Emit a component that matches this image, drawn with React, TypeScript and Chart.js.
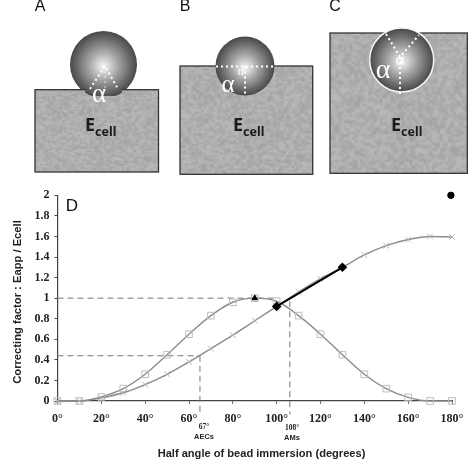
import { useEffect, useRef } from "react";
import Chart from "chart.js/auto";

// values
const angles = [0, 10, 20, 30, 40, 50, 60, 70, 80, 90, 100, 110, 120, 130, 140, 150, 160, 170, 180];
const squareValues = [0, 0, 0.04, 0.12, 0.26, 0.45, 0.65, 0.83, 0.96, 1, 0.97, 0.83, 0.65, 0.45, 0.26, 0.12, 0.035, 0, 0];
const crossValues = [0, 0, 0.03, 0.08, 0.16, 0.26, 0.38, 0.51, 0.64, 0.78, 0.92, 1.06, 1.19, 1.3, 1.42, 1.51, 1.57, 1.6, 1.595];
const diamondAngles = [100, 130];
const diamondValues = [0.92, 1.3];
const trianglePoint = [{ x: 90, y: 1 }];
const circlePoint = [{ x: 179.5, y: 2 }];
const guideTop = [{ x: 0, y: 1 }, { x: 100, y: 1 }];
const guideLow = [{ x: 0, y: 0.44 }, { x: 65, y: 0.44 }];
const guideAec = [{ x: 65, y: 0.44 }, { x: 65, y: -0.13 }];
const guideAm = [{ x: 106, y: 0.97 }, { x: 106, y: -0.13 }];

const W = 474;
const H = 459;
const sansBold = "'Liberation Sans', sans-serif";

function toPoints(xs: number[], ys: number[]) {
  return xs.map((x, i) => ({ x, y: ys[i] }));
}

// mottled grey for the cell blocks, deterministic
function makeTexture() {
  const size = 50;
  const c = document.createElement("canvas");
  c.width = size;
  c.height = size;
  const g = c.getContext("2d")!;
  const img = g.createImageData(size, size);
  let seed = 12345;
  for (let i = 0; i < size * size; i++) {
    seed = (seed * 1103515 + 12345) & 0x7fffffff;
    const v = 162 + ((seed >> 8) % 26);
    img.data[i * 4] = v;
    img.data[i * 4 + 1] = v;
    img.data[i * 4 + 2] = v;
    img.data[i * 4 + 3] = 255;
  }
  g.putImageData(img, 0, 0);
  return c;
}

function drawCellLabel(ctx: CanvasRenderingContext2D, x: number, y: number) {
  ctx.fillStyle = "#1c1c1c";
  ctx.textAlign = "left";
  ctx.textBaseline = "alphabetic";
  ctx.font = "bold 18px 'Noto Sans', sans-serif";
  ctx.fillText("E", x, y);
  ctx.font = "bold 12.5px 'Noto Sans', sans-serif";
  ctx.fillText("cell", x + 10, y + 5);
}

function drawBlock(ctx: CanvasRenderingContext2D, tex: HTMLCanvasElement, x0: number, y0: number, x1: number, y1: number) {
  ctx.save();
  ctx.imageSmoothingEnabled = true;
  ctx.drawImage(tex, 0, 0, 50, 50, x0, y0, x1 - x0, y1 - y0);
  ctx.strokeStyle = "#333";
  ctx.lineWidth = 1.3;
  ctx.strokeRect(x0, y0, x1 - x0, y1 - y0);
  ctx.restore();
}

function drawBead(ctx: CanvasRenderingContext2D, x: number, y: number, r: number) {
  const grad = ctx.createRadialGradient(x, y + 2, 1, x, y, r);
  grad.addColorStop(0, "#f2f2f2");
  grad.addColorStop(0.4, "#a8a8a8");
  grad.addColorStop(0.8, "#666");
  grad.addColorStop(1, "#484848");
  ctx.fillStyle = grad;
  ctx.beginPath();
  ctx.arc(x, y, r, 0, Math.PI * 2);
  ctx.fill();
}

function dotted(ctx: CanvasRenderingContext2D, pts: number[][], width = 2) {
  ctx.save();
  ctx.strokeStyle = "#fff";
  ctx.lineWidth = width;
  ctx.setLineDash([2, 3]);
  ctx.beginPath();
  pts.forEach((p, i) => (i ? ctx.lineTo(p[0], p[1]) : ctx.moveTo(p[0], p[1])));
  ctx.stroke();
  ctx.restore();
}

function alpha(ctx: CanvasRenderingContext2D, x: number, y: number, size: number) {
  ctx.fillStyle = "#fff";
  ctx.textAlign = "center";
  ctx.textBaseline = "middle";
  ctx.font = `${size}px 'Liberation Serif', serif`;
  ctx.fillText("α", x, y);
}

// panels A, B, C and the loose text around panel D
const figurePlugin = {
  id: "figure",
  beforeDraw(chart: Chart) {
    const ctx = chart.ctx;
    const tex = makeTexture();
    ctx.save();
    ctx.fillStyle = "#fff";
    ctx.fillRect(0, 0, W, H);

    // A
    drawBead(ctx, 103.5, 64.5, 33.5);
    drawBlock(ctx, tex, 35, 89.7, 158.5, 172);
    // the bead sinks a little into the block
    ctx.save();
    ctx.beginPath();
    ctx.rect(85, 88, 37, 8);
    ctx.clip();
    drawBead(ctx, 103.5, 64.5, 33.5);
    ctx.restore();
    dotted(ctx, [[90, 89], [105, 66], [118, 89]]);
    dotted(ctx, [[105, 66], [105, 90]], 0.7);
    alpha(ctx, 99, 95, 27);
    drawCellLabel(ctx, 85, 131);

    // B
    drawBlock(ctx, tex, 180, 66, 312.7, 174.3);
    drawBead(ctx, 245, 66, 29.5);
    dotted(ctx, [[216, 66.5], [274, 66.5]]);
    dotted(ctx, [[245, 66.5], [245, 94]]);
    alpha(ctx, 228, 85, 25);
    alpha(ctx, 241, 72, 12);
    drawCellLabel(ctx, 233, 131);

    // C
    drawBlock(ctx, tex, 330, 33, 467.3, 173.3);
    drawBead(ctx, 401.7, 60, 32);
    ctx.strokeStyle = "#f4f4f4";
    ctx.lineWidth = 1.5;
    ctx.beginPath();
    ctx.arc(401.7, 60, 32, 0, Math.PI * 2);
    ctx.stroke();
    dotted(ctx, [[386, 34], [400, 57], [419, 35]]);
    dotted(ctx, [[400, 57], [400, 96]]);
    alpha(ctx, 383, 71, 28);
    alpha(ctx, 400, 61, 16);
    drawCellLabel(ctx, 391, 131);

    ctx.fillStyle = "#111";
    ctx.textAlign = "center";
    ctx.textBaseline = "middle";
    ctx.font = `16px ${sansBold}`;
    ctx.fillText("A", 40, 7);
    ctx.fillText("B", 185, 7);
    ctx.fillText("C", 335, 7);
    ctx.font = `17px ${sansBold}`;
    ctx.fillText("D", 72, 206);

    ctx.fillStyle = "#222";
    ctx.font = `bold 7.5px 'Liberation Serif', serif`;
    ctx.fillText("67°", 204, 427);
    ctx.fillText("108°", 292, 428);
    ctx.font = `bold 7.5px ${sansBold}`;
    ctx.fillText("AECs", 204, 437);
    ctx.fillText("AMs", 292, 438);

    ctx.font = `bold 11.1px ${sansBold}`;
    ctx.fillText("Half angle of bead immersion (degrees)", 261.5, 454);
    ctx.save();
    ctx.translate(18, 302);
    ctx.rotate(-Math.PI / 2);
    ctx.font = `bold 11.2px ${sansBold}`;
    ctx.fillText("Correcting factor : Eapp / Ecell", 0, 0);
    ctx.restore();
    ctx.restore();
  },
};

export default function App() {
  const canvasRef = useRef<HTMLCanvasElement>(null);

  useEffect(() => {
    if (!canvasRef.current) return;
    const guide = (data: { x: number; y: number }[]) => ({
      data,
      borderColor: "#777",
      borderWidth: 1,
      borderDash: [6, 4],
      pointRadius: 0,
      showLine: true,
      clip: false as const,
    });
    const chart = new Chart(canvasRef.current, {
      type: "scatter",
      data: {
        // first dataset ends up on top
        datasets: [
          {
            data: circlePoint,
            pointStyle: "circle",
            pointRadius: 3.2,
            pointBackgroundColor: "#000",
            pointBorderColor: "#000",
            clip: false,
          },
          {
            data: trianglePoint,
            pointStyle: "triangle",
            pointRadius: 3.2,
            pointBackgroundColor: "#000",
            pointBorderColor: "#000",
          },
          {
            data: toPoints(diamondAngles, diamondValues),
            showLine: true,
            borderColor: "#000",
            borderWidth: 2,
            pointStyle: "rectRot",
            pointRadius: 3.4,
            pointBackgroundColor: "#000",
            pointBorderColor: "#000",
          },
          {
            data: toPoints(angles, crossValues),
            showLine: true,
            cubicInterpolationMode: "monotone",
            borderColor: "#8c8c8c",
            borderWidth: 1.4,
            pointStyle: "crossRot",
            pointRadius: 4,
            pointBorderColor: "#b5b5b5",
            pointBorderWidth: 1,
            clip: false,
          },
          {
            data: toPoints(angles, squareValues),
            showLine: true,
            cubicInterpolationMode: "monotone",
            borderColor: "#8c8c8c",
            borderWidth: 1.4,
            pointStyle: "rect",
            pointRadius: 4.7,
            pointBackgroundColor: "rgba(255,255,255,0)",
            pointBorderColor: "#bdbdbd",
            pointBorderWidth: 1,
            clip: false,
          },
          guide(guideTop),
          guide(guideLow),
          guide(guideAec),
          guide(guideAm),
        ],
      },
      options: {
        responsive: false,
        animation: false,
        devicePixelRatio: 1,
        layout: { padding: { left: 0, right: 22, top: 195.3, bottom: 0 } },
        plugins: { legend: { display: false }, tooltip: { enabled: false } },
        scales: {
          x: {
            type: "linear",
            min: 0,
            max: 180,
            afterFit: (s: any) => {
              s.height = 58;
            },
            border: { color: "#444", width: 1.2 },
            grid: { drawOnChartArea: false, color: "#777", tickLength: 3 },
            ticks: {
              stepSize: 20,
              maxRotation: 0,
              padding: 8,
              color: "#222",
              font: { family: "'Liberation Serif', serif", weight: "bold", size: 12 },
              callback: (v: any) => `${v}°`,
            },
          },
          y: {
            min: 0,
            max: 2,
            afterFit: (s: any) => {
              s.width = 57.5;
            },
            border: { color: "#444", width: 1.2 },
            grid: { drawOnChartArea: false, color: "#444", tickLength: 3 },
            ticks: {
              stepSize: 0.2,
              padding: 5,
              color: "#222",
              font: { family: "'Liberation Serif', serif", weight: "bold", size: 12 },
              callback: (v: any) => String(Math.round(v * 10) / 10),
            },
          },
        },
      },
      plugins: [figurePlugin],
    } as any);
    return () => chart.destroy();
  }, []);

  return (
    <div style={{ position: "fixed", left: 0, top: 0, width: W, height: H, background: "#fff" }}>
      <canvas ref={canvasRef} width={W} height={H} style={{ display: "block", width: W, height: H, filter: "blur(0.35px)" }} />
    </div>
  );
}
